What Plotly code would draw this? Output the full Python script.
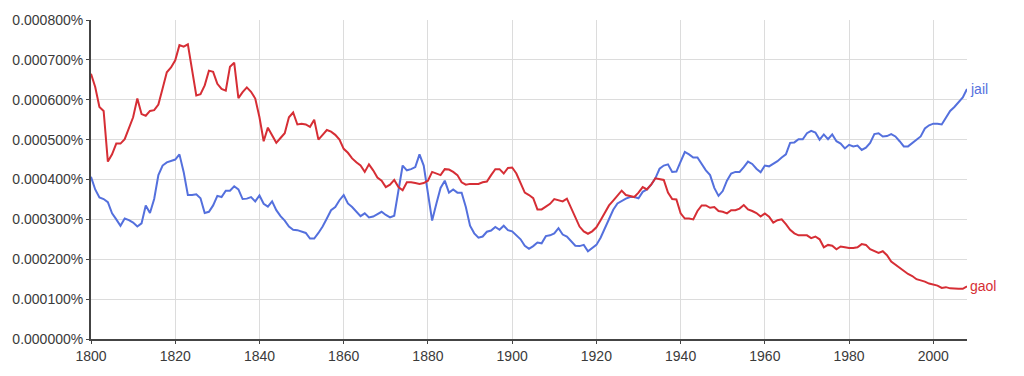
import plotly.graph_objects as go

# Values in units of 0.0001 % (1e-4 percent), one per year 1800..2008
years = list(range(1800, 2009))
UNIT = 0.0001

gaol = [
    6.65, 6.32, 5.82, 5.72, 4.45, 4.63, 4.90, 4.90, 5.01, 5.28,
    5.56, 6.03, 5.64, 5.60, 5.72, 5.74, 5.88, 6.28, 6.69, 6.81,
    6.99, 7.37, 7.33, 7.39, 6.77, 6.11, 6.14, 6.36, 6.73, 6.70,
    6.40, 6.27, 6.23, 6.83, 6.93, 6.04, 6.19, 6.31, 6.20, 6.03,
    5.56, 4.96, 5.30, 5.12, 4.92, 5.04, 5.16, 5.56, 5.68, 5.38,
    5.40, 5.38, 5.32, 5.50, 5.00, 5.12, 5.24, 5.20, 5.12, 5.00,
    4.77, 4.67, 4.53, 4.43, 4.35, 4.19, 4.38, 4.23, 4.05, 3.97,
    3.81, 3.87, 3.99, 3.81, 3.73, 3.93, 3.93, 3.91, 3.89, 3.91,
    3.97, 4.19, 4.15, 4.11, 4.26, 4.25, 4.19, 4.11, 3.93, 3.87,
    3.89, 3.89, 3.89, 3.93, 3.95, 4.11, 4.26, 4.26, 4.15, 4.29,
    4.30, 4.15, 3.91, 3.67, 3.61, 3.53, 3.25, 3.25, 3.32, 3.39,
    3.51, 3.47, 3.45, 3.52, 3.29, 3.07, 2.82, 2.70, 2.64, 2.70,
    2.80, 2.98, 3.16, 3.35, 3.47, 3.59, 3.72, 3.61, 3.59, 3.56,
    3.67, 3.81, 3.75, 3.87, 4.03, 4.01, 3.99, 3.67, 3.51, 3.50,
    3.15, 3.02, 3.02, 3.00, 3.21, 3.35, 3.35, 3.29, 3.31, 3.21,
    3.19, 3.15, 3.23, 3.23, 3.27, 3.36, 3.25, 3.21, 3.16, 3.07,
    3.15, 3.07, 2.92, 2.98, 3.00, 2.88, 2.74, 2.65, 2.60, 2.60,
    2.60, 2.53, 2.57, 2.50, 2.30, 2.36, 2.34, 2.25, 2.32, 2.30,
    2.28, 2.28, 2.30, 2.38, 2.36, 2.25, 2.20, 2.16, 2.20, 2.10,
    1.94, 1.86, 1.78, 1.70, 1.63, 1.58, 1.50, 1.47, 1.44, 1.39,
    1.36, 1.34, 1.28, 1.30, 1.27, 1.26, 1.26, 1.26, 1.32,
]

jail = [
    4.07, 3.75, 3.55, 3.51, 3.43, 3.15, 3.00, 2.84, 3.02, 2.98,
    2.92, 2.82, 2.90, 3.35, 3.16, 3.51, 4.11, 4.35, 4.43, 4.47,
    4.50, 4.63, 4.19, 3.61, 3.61, 3.63, 3.53, 3.16, 3.19, 3.35,
    3.59, 3.56, 3.72, 3.72, 3.83, 3.75, 3.51, 3.52, 3.56, 3.45,
    3.60, 3.39, 3.32, 3.45, 3.23, 3.08, 2.97, 2.82, 2.74, 2.73,
    2.69, 2.66, 2.52, 2.52, 2.66, 2.82, 3.02, 3.23, 3.31, 3.48,
    3.61, 3.40, 3.31, 3.19, 3.08, 3.15, 3.05, 3.07, 3.12, 3.19,
    3.11, 3.05, 3.09, 3.67, 4.35, 4.23, 4.26, 4.31, 4.63, 4.35,
    3.63, 2.97, 3.39, 3.79, 3.97, 3.67, 3.75, 3.67, 3.67, 3.31,
    2.84, 2.65, 2.54, 2.57, 2.69, 2.72, 2.81, 2.74, 2.84, 2.73,
    2.70, 2.61, 2.50, 2.34, 2.26, 2.33, 2.42, 2.40, 2.58, 2.60,
    2.65, 2.78, 2.62, 2.57, 2.46, 2.34, 2.33, 2.36, 2.20, 2.28,
    2.36, 2.54, 2.78, 3.02, 3.24, 3.40, 3.47, 3.52, 3.56, 3.56,
    3.53, 3.69, 3.75, 3.87, 4.03, 4.27, 4.35, 4.38, 4.19, 4.20,
    4.45, 4.69, 4.63, 4.55, 4.55, 4.39, 4.23, 4.11, 3.79, 3.59,
    3.71, 3.97, 4.15, 4.19, 4.19, 4.31, 4.45, 4.39, 4.27, 4.18,
    4.35, 4.33, 4.39, 4.46, 4.55, 4.63, 4.92, 4.93, 5.01, 5.01,
    5.16, 5.22, 5.18, 5.00, 5.13, 5.01, 5.13, 4.96, 4.90, 4.78,
    4.87, 4.83, 4.85, 4.74, 4.80, 4.92, 5.14, 5.16, 5.08, 5.09,
    5.14, 5.08, 4.96, 4.83, 4.83, 4.92, 5.00, 5.08, 5.28, 5.36,
    5.40, 5.40, 5.38, 5.56, 5.72, 5.82, 5.95, 6.06, 6.27,
]

series_names = ["jail", "gaol"]
colors = {"jail": "#5470dd", "gaol": "#d62e35"}
series = {"jail": jail, "gaol": gaol}

tick_years = list(range(1800, 2001, 20))
y_ticks = [i * UNIT for i in range(0, 9)]
y_ticktext = [f"{v:.6f}%" for v in y_ticks]

fig = go.Figure()
for name in series_names:
    vals = [v * UNIT for v in series[name]]
    fig.add_trace(go.Scatter(
        x=years, y=vals, mode="lines", name=name,
        line=dict(color=colors[name], width=2),
        hoverinfo="skip",
    ))
    fig.add_annotation(
        x=years[-1], y=vals[-1], text=name, showarrow=False,
        xanchor="left", yanchor="middle", xshift=1,
        font=dict(color=colors[name], size=14, family="Liberation Sans, Arial, sans-serif"),
    )

fig.update_layout(
    width=1024, height=376,
    margin=dict(l=89, r=57, t=16, b=29),
    paper_bgcolor="white", plot_bgcolor="white",
    showlegend=False,
    font=dict(family="Liberation Sans, Arial, sans-serif", size=14, color="#3a3a3a"),
)
fig.update_xaxes(
    range=[1800, 2008], tickvals=tick_years, ticktext=[str(t) for t in tick_years],
    showgrid=True, gridcolor="#dcdcdc", gridwidth=1,
    showline=True, linecolor="#444444", linewidth=2,
    ticks="outside", ticklen=3, tickcolor="#444444", tickwidth=1,
    zeroline=False,
)
fig.update_yaxes(
    range=[0, 8 * UNIT], tickvals=y_ticks, ticktext=y_ticktext,
    showgrid=True, gridcolor="#dcdcdc", gridwidth=1,
    showline=True, linecolor="#444444", linewidth=2,
    ticks="outside", ticklen=3, tickcolor="#444444", tickwidth=1,
    zeroline=False,
)

fig.write_html("out.html")
